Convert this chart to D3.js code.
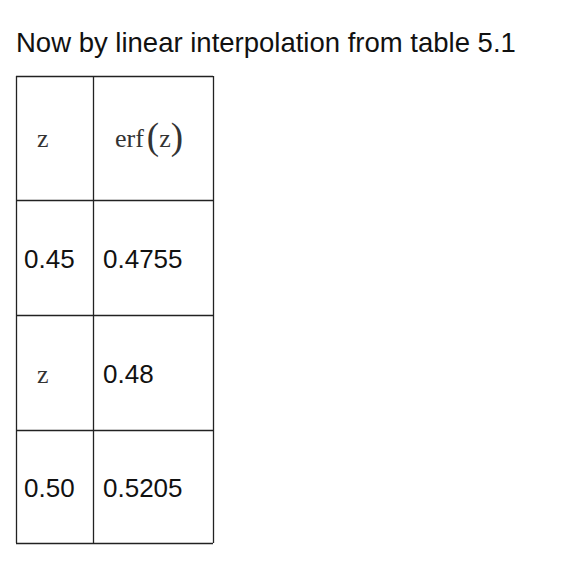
<!DOCTYPE html>
<html><head><meta charset="utf-8">
<script src="https://cdn.jsdelivr.net/npm/d3@7"></script>
<style>body{margin:0;background:#fff}</style>
</head><body>
<script>
// table content
const title = 'Now by linear interpolation from table 5.1';
const header = ['z', 'erf'];
const colZ = ['0.45', 'z', '0.50'];
const colErf = ['0.4755', '0.48', '0.5205'];
const rowEdges = [76, 200, 315, 430, 543];
const colEdges = [16, 93, 213];

const svg = d3.select('body').append('svg')
    .attr('width', 582).attr('height', 562);

svg.append('text')
    .attr('x', 16).attr('y', 52)
    .attr('font-family', 'Liberation Sans, Arial, sans-serif')
    .attr('font-size', 27.5)
    .attr('fill', '#111')
    .text(title);

const g = svg.append('g');

// grid lines
rowEdges.forEach(y => {
    g.append('line')
        .attr('x1', colEdges[0]).attr('x2', colEdges[2])
        .attr('y1', y + 0.5).attr('y2', y + 0.5)
        .attr('stroke', '#222').attr('stroke-width', 1.3);
});
colEdges.forEach(x => {
    g.append('line')
        .attr('x1', x + 0.5).attr('x2', x + 0.5)
        .attr('y1', rowEdges[0]).attr('y2', rowEdges[rowEdges.length - 1])
        .attr('stroke', '#222').attr('stroke-width', 1.3);
});

const serif = 'Liberation Serif, Times New Roman, serif';
const sans = 'Liberation Sans, Arial, sans-serif';
const mid = i => (rowEdges[i] + rowEdges[i + 1]) / 2;

// header row
g.append('text').attr('x', 37).attr('y', mid(0) + 9)
    .attr('font-family', serif).attr('font-size', 26).attr('fill', '#333').text(header[0]);
const h = g.append('text').attr('x', 115).attr('y', mid(0) + 9)
    .attr('font-family', serif).attr('font-size', 26).attr('fill', '#333');
h.append('tspan').text(header[1]);
h.append('tspan').attr('font-size', 37).attr('dx', 3).attr('dy', 2).text('(');
h.append('tspan').attr('font-size', 26).attr('dy', -2).text('z');
h.append('tspan').attr('font-size', 37).attr('dy', 2).text(')');

// body rows
colZ.forEach((t, i) => {
    const isSym = t === 'z';
    g.append('text')
        .attr('x', isSym ? 37 : 24).attr('y', mid(i + 1) + 10)
        .attr('font-family', isSym ? serif : sans)
        .attr('font-size', 26).attr('fill', isSym ? '#333' : '#111').text(t);
});
colErf.forEach((t, i) => {
    g.append('text')
        .attr('x', 103).attr('y', mid(i + 1) + 10)
        .attr('font-family', sans)
        .attr('font-size', 26).attr('fill', '#111').text(t);
});
</script>
</body></html>
